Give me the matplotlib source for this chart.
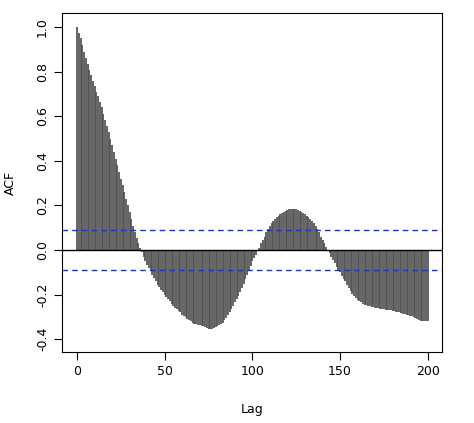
import matplotlib
matplotlib.use("Agg")
import matplotlib.pyplot as plt
import numpy as np

acf = [1.00,0.975,0.95,0.92,0.89,0.86,0.835,0.81,0.785,0.76,
0.735,0.71,0.69,0.665,0.64,0.61,0.585,0.555,0.53,0.50,
0.47,0.44,0.41,0.38,0.35,0.32,0.29,0.26,0.23,0.20,
0.17,0.14,0.11,0.08,0.055,0.03,0.01,-0.01,-0.03,-0.05,
-0.065,-0.08,-0.095,-0.11,-0.125,-0.14,-0.155,-0.165,-0.18,-0.19,
-0.20,-0.21,-0.22,-0.23,-0.24,-0.25,-0.26,-0.265,-0.275,-0.28,
-0.29,-0.295,-0.30,-0.31,-0.315,-0.32,-0.325,-0.33,-0.33,-0.335,
-0.335,-0.34,-0.34,-0.345,-0.35,-0.352,-0.353,-0.352,-0.35,-0.345,
-0.34,-0.335,-0.33,-0.325,-0.315,-0.305,-0.29,-0.28,-0.265,-0.25,
-0.235,-0.22,-0.205,-0.19,-0.17,-0.15,-0.13,-0.11,-0.09,-0.07,
-0.05,-0.035,-0.02,-0.005,0.01,0.03,0.045,0.06,0.08,0.095,
0.11,0.12,0.13,0.14,0.15,0.155,0.16,0.165,0.17,0.175,
0.18,0.182,0.184,0.185,0.184,0.182,0.18,0.175,0.17,0.165,
0.16,0.155,0.15,0.14,0.13,0.12,0.11,0.095,0.08,0.06,
0.045,0.03,0.015,0.0,-0.015,-0.03,-0.045,-0.06,-0.075,-0.09,
-0.10,-0.115,-0.13,-0.14,-0.155,-0.17,-0.185,-0.195,-0.205,-0.215,
-0.225,-0.23,-0.235,-0.24,-0.245,-0.248,-0.25,-0.253,-0.255,-0.257,
-0.258,-0.26,-0.262,-0.264,-0.265,-0.266,-0.267,-0.268,-0.27,-0.271,
-0.272,-0.274,-0.276,-0.278,-0.28,-0.282,-0.285,-0.288,-0.29,-0.292,
-0.295,-0.298,-0.30,-0.305,-0.31,-0.313,-0.316,-0.317,-0.318,-0.318,
-0.318]
lags = list(range(len(acf)))
ci = 0.088
xticks = [0, 50, 100, 150, 200]
yticks = [-0.4, -0.2, 0.0, 0.2, 0.4, 0.6, 0.8, 1.0]

fig = plt.figure(figsize=(4.74, 4.23), dpi=100)
ax = fig.add_axes([0.131, 0.168, 0.801, 0.801])
ax.vlines(lags, 0, acf, color="#505050", linewidth=1.25)
ax.axhline(0, color="black", linewidth=1.0)
for s in (ci, -ci):
    ax.axhline(s, color="#2233bb", linestyle=(0, (4, 3)), linewidth=1.0)
ax.set_xlim(-8.5, 208)
ax.set_ylim(-0.457, 1.063)
ax.set_xticks(xticks)
ax.set_yticks(yticks)
ax.set_yticklabels([f"{v:.1f}" for v in yticks], rotation=90, va="center")
ax.tick_params(direction="out", length=6, labelsize=9)
for sp in ax.spines.values():
    sp.set_linewidth(0.8)
ax.set_xlabel("Lag", fontsize=9, labelpad=18)
ax.set_ylabel("ACF", fontsize=9, labelpad=14)
fig.savefig("out.png", dpi=100)
